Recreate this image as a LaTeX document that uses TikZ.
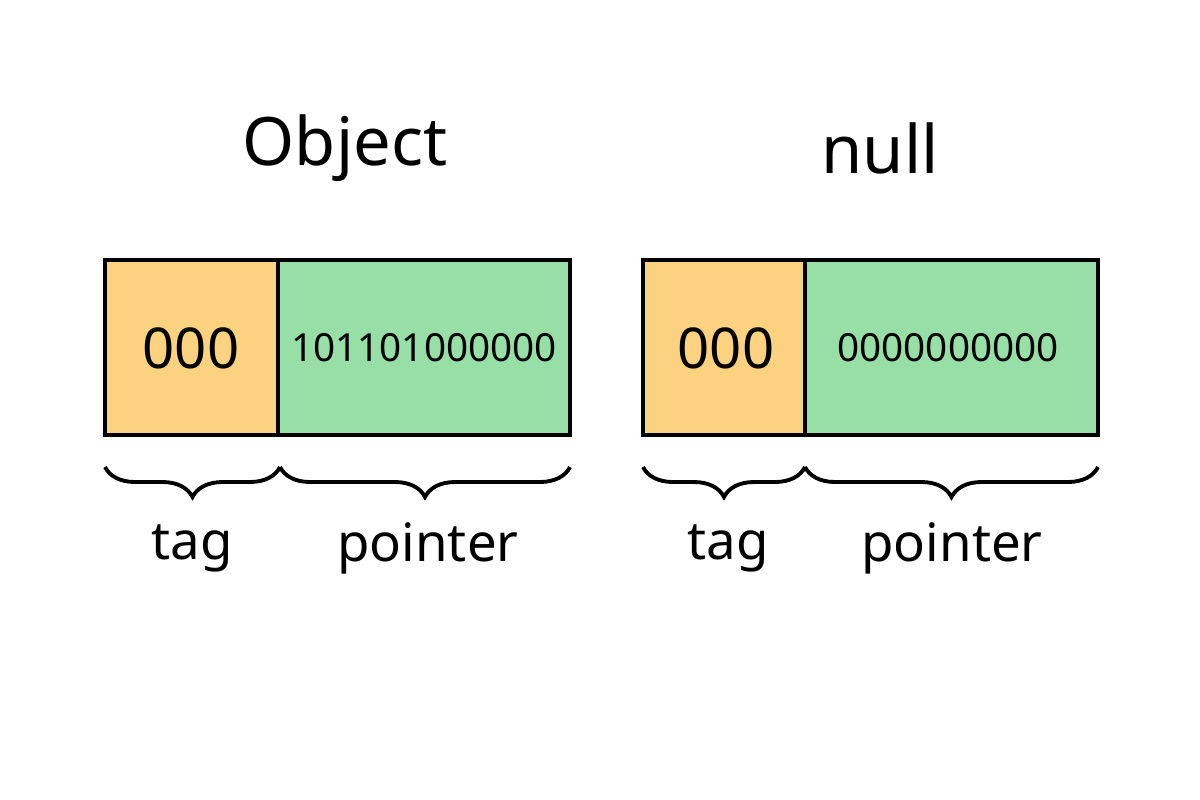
\documentclass[tikz,border=0pt]{standalone}
\usepackage{fontspec}
\setmainfont{Noto Sans}
\usetikzlibrary{decorations.pathreplacing}
\definecolor{tagfill}{HTML}{FBD27F}
\definecolor{ptrfill}{HTML}{97DFA6}
\tikzset{
  field/.style={draw=black, line width=1.3pt},
  brc/.style={decorate, decoration={brace, mirror, amplitude=0.3cm}, line width=1.1pt}
}
\begin{document}
\begin{tikzpicture}[x=0.01cm,y=-0.01cm]
  \useasboundingbox (0,0) rectangle (1200,800);

  % Titles
  \node (objt) at (345,148) {\fontsize{19}{22}\selectfont\bfseries Object};
  \node (nult) at (880,148) {\fontsize{19}{22}\selectfont\bfseries null};

  % Object word
  \filldraw[field, fill=tagfill] (105,260) rectangle (278,435);
  \filldraw[field, fill=ptrfill] (278,260) rectangle (570,435);
  \node (otag) at (191,348) {\fontsize{16}{18}\selectfont 000};
  \node (optr) at (424,348) {\fontsize{11}{13}\selectfont 101101000000};

  % null word
  \filldraw[field, fill=tagfill] (643,260) rectangle (805,435);
  \filldraw[field, fill=ptrfill] (805,260) rectangle (1098,435);
  \node (ntag) at (726,348) {\fontsize{16}{18}\selectfont 000};
  \node (nptr) at (948,348) {\fontsize{11}{13}\selectfont 0000000000};

  % Braces
  \draw[brc] (105,467) -- (280,467);
  \draw[brc] (280,467) -- (570,467);
  \draw[brc] (643,467) -- (805,467);
  \draw[brc] (805,467) -- (1098,467);

  % Labels
  \node (otl) at (192,548) {\fontsize{15}{18}\selectfont tag};
  \node (opl) at (428,548) {\fontsize{15}{18}\selectfont pointer};
  \node (ntl) at (728,548) {\fontsize{15}{18}\selectfont tag};
  \node (npl) at (952,548) {\fontsize{15}{18}\selectfont pointer};
\end{tikzpicture}
\end{document}
